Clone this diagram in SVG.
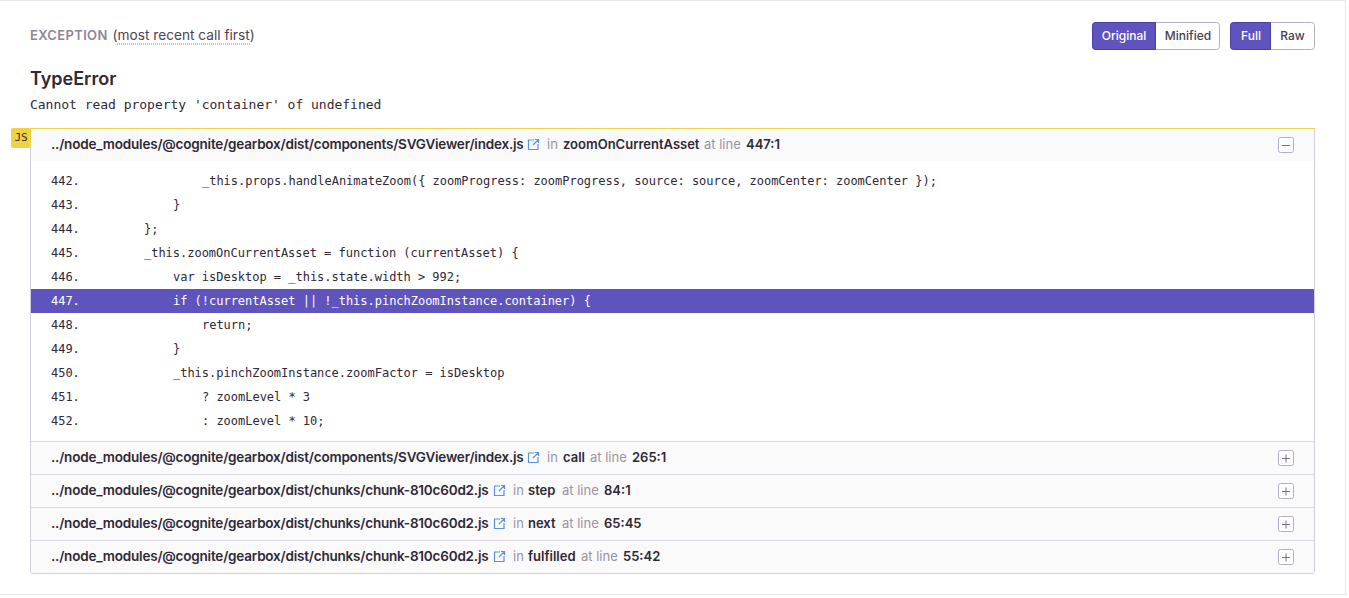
<svg xmlns="http://www.w3.org/2000/svg" width="1349" height="598" viewBox="0 0 1349 598">
<style>
text{font-family:"Inter","Liberation Sans",sans-serif;fill:#2f2936}
.m text,text.m{font-family:"DejaVu Sans Mono","Liberation Mono",monospace;font-size:12px;fill:#302839;letter-spacing:-.02px}
.f{font-size:13.500px;font-weight:600;letter-spacing:-.2px}
.g{font-size:13px;fill:#9a95a0}
.b{font-size:13px;font-weight:600}
.h{fill:#fafafb}
.sep{stroke:#dcd8e4;stroke-width:1}
.ib{fill:#fff;stroke:#b7aec6;stroke-width:1}
.il{stroke:#7c6a8e;stroke-width:1;fill:none}
.ext{fill:none;stroke:#5b92e0;stroke-width:1.2}
.btn{font-size:12px;font-weight:500;text-anchor:middle}
</style>
<rect width="1349" height="598" fill="#fff"/>
<g id="page-frame" fill="none" stroke="#e7e5ea">
<path d="M0 .5H1345.500V594.500H0" stroke-width="1"/>
</g>
<g id="heading">
<text x="30" y="40" font-size="13" font-weight="600" style="fill:#8f8699;letter-spacing:.35px">EXCEPTION</text>
<text x="112.500" y="40" font-size="13.700" style="fill:#4a4453">(most recent call first)</text>
<path d="M117 44H251" stroke="#8f8699" stroke-dasharray="1 1" fill="none"/>
<text x="30" y="85" font-size="18" font-weight="600">TypeError</text>
<text x="30" y="109" class="m" style="font-size:13px">Cannot read property 'container' of undefined</text>
</g>
<g id="btn-view">
<rect x="1092.500" y="22.500" width="127" height="27" rx="3" fill="#fff" stroke="#b7aec6"/>
<path d="M1155.500 22.500H1095.500a3 3 0 0 0-3 3V46.500a3 3 0 0 0 3 3H1155.500Z" fill="#5f54bd" stroke="#4a3fa8"/>
<text x="1124" y="40" class="btn" style="fill:#fff">Original</text>
<text x="1188" y="40" class="btn" style="fill:#493e54">Minified</text>
</g>
<g id="btn-mode">
<rect x="1230.500" y="22.500" width="84" height="27" rx="3" fill="#fff" stroke="#b7aec6"/>
<path d="M1270.500 22.500H1233.500a3 3 0 0 0-3 3V46.500a3 3 0 0 0 3 3H1270.500Z" fill="#5f54bd" stroke="#4a3fa8"/>
<text x="1251" y="40" class="btn" style="fill:#fff">Full</text>
<text x="1292.500" y="40" class="btn" style="fill:#493e54">Raw</text>
</g>
<g id="panel">
<rect x="30.500" y="128.500" width="1284" height="445" rx="2" fill="#fff" stroke="#d3cedd"/>
<path d="M31 129H1314V161H31Z" class="h"/>
<path d="M31 442H1314V573H31Z" class="h"/>
<path d="M30 128.500H1315" stroke="#f0d44a" fill="none"/>
<path class="sep" d="M31 441.500H1314M31 474.500H1314M31 507.500H1314M31 540.500H1314"/>
</g>
<g id="js-badge">
<rect x="11" y="128" width="20" height="20" rx="2" fill="#f0d344"/>
<text x="21" y="141" text-anchor="middle" class="m" style="font-size:11px">JS</text>
</g>
<g id="frame-1">
<text x="51" y="149" class="f">../node_modules/@cognite/gearbox/dist/components/SVGViewer/index.js</text>
<g class="ext"><path d="M534 140H528.500V149.500H538V144M533 145L538.500 139.500M535 139.500H538.500V143"/></g>
<text x="547" y="149" class="g">in</text><text x="563" y="149" class="b">zoomOnCurrentAsset</text>
<text x="704" y="149" class="g">at line</text><text x="746" y="149" class="b">447:1</text>
<rect x="1278.500" y="137.500" width="15" height="15" rx="2" class="ib"/><path d="M1282 145.500H1290" class="il"/>
</g>
<g id="code">
<rect x="31" y="289" width="1283" height="24" fill="#5f54bd"/>
<g class="m">
<text x="51" y="185">442.</text><text x="202" y="185">_this.props.handleAnimateZoom({ zoomProgress: zoomProgress, source: source, zoomCenter: zoomCenter });</text>
<text x="51" y="209">443.</text><text x="173" y="209">}</text>
<text x="51" y="233">444.</text><text x="144" y="233">};</text>
<text x="51" y="257">445.</text><text x="144" y="257">_this.zoomOnCurrentAsset = function (currentAsset) {</text>
<text x="51" y="281">446.</text><text x="173" y="281">var isDesktop = _this.state.width &gt; 992;</text>
<text x="51" y="305" style="fill:#fff">447.</text><text x="173" y="305" style="fill:#fff">if (!currentAsset || !_this.pinchZoomInstance.container) {</text>
<text x="51" y="329">448.</text><text x="202" y="329">return;</text>
<text x="51" y="353">449.</text><text x="173" y="353">}</text>
<text x="51" y="377">450.</text><text x="173" y="377">_this.pinchZoomInstance.zoomFactor = isDesktop</text>
<text x="51" y="401">451.</text><text x="202" y="401">? zoomLevel * 3</text>
<text x="51" y="425">452.</text><text x="202" y="425">: zoomLevel * 10;</text>
</g>
</g>
<g id="frame-2">
<text x="51" y="462" class="f">../node_modules/@cognite/gearbox/dist/components/SVGViewer/index.js</text>
<g class="ext"><path d="M534 453H528.500V462.500H538V457M533 458L538.500 452.500M535 452.500H538.500V456"/></g>
<text x="547" y="462" class="g">in</text><text x="563" y="462" class="b">call</text>
<text x="590" y="462" class="g">at line</text><text x="632" y="462" class="b">265:1</text>
<rect x="1278.500" y="450.500" width="15" height="15" rx="2" class="ib"/><path d="M1282 458.500H1290M1286 454.500V462.500" class="il"/>
</g>
<g id="frame-3">
<text x="51" y="495" class="f">../node_modules/@cognite/gearbox/dist/chunks/chunk-810c60d2.js</text>
<g class="ext"><path d="M500 486H494.500V495.500H504V490M499 491L504.500 485.500M501 485.500H504.500V489"/></g>
<text x="513" y="495" class="g">in</text><text x="528" y="495" class="b">step</text>
<text x="562" y="495" class="g">at line</text><text x="604" y="495" class="b">84:1</text>
<rect x="1278.500" y="483.500" width="15" height="15" rx="2" class="ib"/><path d="M1282 491.500H1290M1286 487.500V495.500" class="il"/>
</g>
<g id="frame-4">
<text x="51" y="528" class="f">../node_modules/@cognite/gearbox/dist/chunks/chunk-810c60d2.js</text>
<g class="ext"><path d="M500 519H494.500V528.500H504V523M499 524L504.500 518.500M501 518.500H504.500V522"/></g>
<text x="513" y="528" class="g">in</text><text x="528" y="528" class="b">next</text>
<text x="562" y="528" class="g">at line</text><text x="604" y="528" class="b">65:45</text>
<rect x="1278.500" y="516.500" width="15" height="15" rx="2" class="ib"/><path d="M1282 524.500H1290M1286 520.500V528.500" class="il"/>
</g>
<g id="frame-5">
<text x="51" y="561" class="f">../node_modules/@cognite/gearbox/dist/chunks/chunk-810c60d2.js</text>
<g class="ext"><path d="M500 552H494.500V561.500H504V556M499 557L504.500 551.500M501 551.500H504.500V555"/></g>
<text x="513" y="561" class="g">in</text><text x="528" y="561" class="b">fulfilled</text>
<text x="581" y="561" class="g">at line</text><text x="623" y="561" class="b">55:42</text>
<rect x="1278.500" y="549.500" width="15" height="15" rx="2" class="ib"/><path d="M1282 557.500H1290M1286 553.500V561.500" class="il"/>
</g>
</svg>
